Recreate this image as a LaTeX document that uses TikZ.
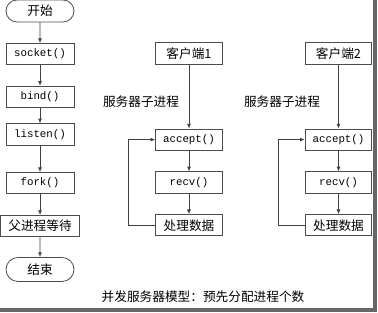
\documentclass[tikz,border=0pt]{standalone}
\usepackage{fontspec}
\setmainfont{Liberation Serif}
\setmonofont{Liberation Mono}
\newfontfamily\cjk{Noto Sans CJK SC}
\usetikzlibrary{arrows.meta,positioning,shapes.misc}

\begin{document}
\begin{tikzpicture}[
		x=0.75pt, y=-0.75pt,
		font=\cjk\fontsize{9.5}{11}\selectfont,
		>={Latex[length=3.5pt,width=3pt]},
		line/.style={->, line width=0.6pt, draw=black!75},
		proc/.style={draw=black!70, line width=0.6pt, minimum width=50pt, minimum height=16pt, inner sep=0pt},
		term/.style={draw=black!70, line width=0.6pt, rounded rectangle, minimum width=51pt, minimum height=17pt, inner sep=0pt},
		code/.style={font=\ttfamily\fontsize{8.1}{10}\selectfont},
		note/.style={inner sep=0pt}
		]
		\useasboundingbox (0,0) rectangle (378,313);
		
		% Main server process
		\node[term, minimum height=16.5pt] (start) at (40,11) {开始};
		\node[proc, code, minimum width=51pt, below=15.5pt of start] (socket) {socket()};
		\node[proc, code, minimum width=51pt, below=15.5pt of socket] (bind) {bind()};
		\node[proc, code, minimum width=51pt, below=11.5pt of bind] (listen) {listen()};
		\node[proc, code, minimum width=51pt, below=20pt of listen] (fork) {fork()};
		\node[proc, minimum width=59pt, below=15.5pt of fork] (wait) {父进程等待};
		\node[term, minimum height=18pt, below=15pt of wait] (end) {结束};
		
		% Child process 1
		\node[proc] (client1) at (189,53.5) {客户端1};
		\node[proc, code, below=48pt of client1] (accept1) {accept()};
		\node[proc, code, below=15.5pt of accept1] (recv1) {recv()};
		\node[proc, below=15.5pt of recv1] (data1) {处理数据};
		
		% Child process 2
		\node[proc] (client2) at (338.5,53.5) {客户端2};
		\node[proc, code, below=48pt of client2] (accept2) {accept()};
		\node[proc, code, below=15.5pt of accept2] (recv2) {recv()};
		\node[proc, below=15.5pt of recv2] (data2) {处理数据};
		
		\node[note] (child1) at (141,102) {服务器子进程};
		\node[note] (child2) at (282,102) {服务器子进程};
		\node[note] (caption) at (203,297) {并发服务器模型：预先分配进程个数};
		
		% Flow of the main process
		\draw[line] (start) -- (socket);
		\draw[line] (socket) -- (bind);
		\draw[line] (bind) -- (listen);
		\draw[line] (listen) -- (fork);
		\draw[line] (fork) -- (wait);
		\draw[line] (wait) -- (end);
		
		% Flow of the children
		\draw[line] (client1) -- (accept1);
		\draw[line] (accept1) -- (recv1);
		\draw[line] (recv1) -- (data1);
		\draw[line] (data1.west) -- ++(-27,0) |- (accept1.west);
		\draw[line] (client2) -- (accept2);
		\draw[line] (accept2) -- (recv2);
		\draw[line] (recv2) -- (data2);
		\draw[line] (data2.west) -- ++(-26,0) |- (accept2.west);
		
		% Frame shadow
		\fill[black!60] (373,0) rectangle (377,312);
		\fill[black!60] (0,308) rectangle (377,312);
	\end{tikzpicture}
\end{document}
